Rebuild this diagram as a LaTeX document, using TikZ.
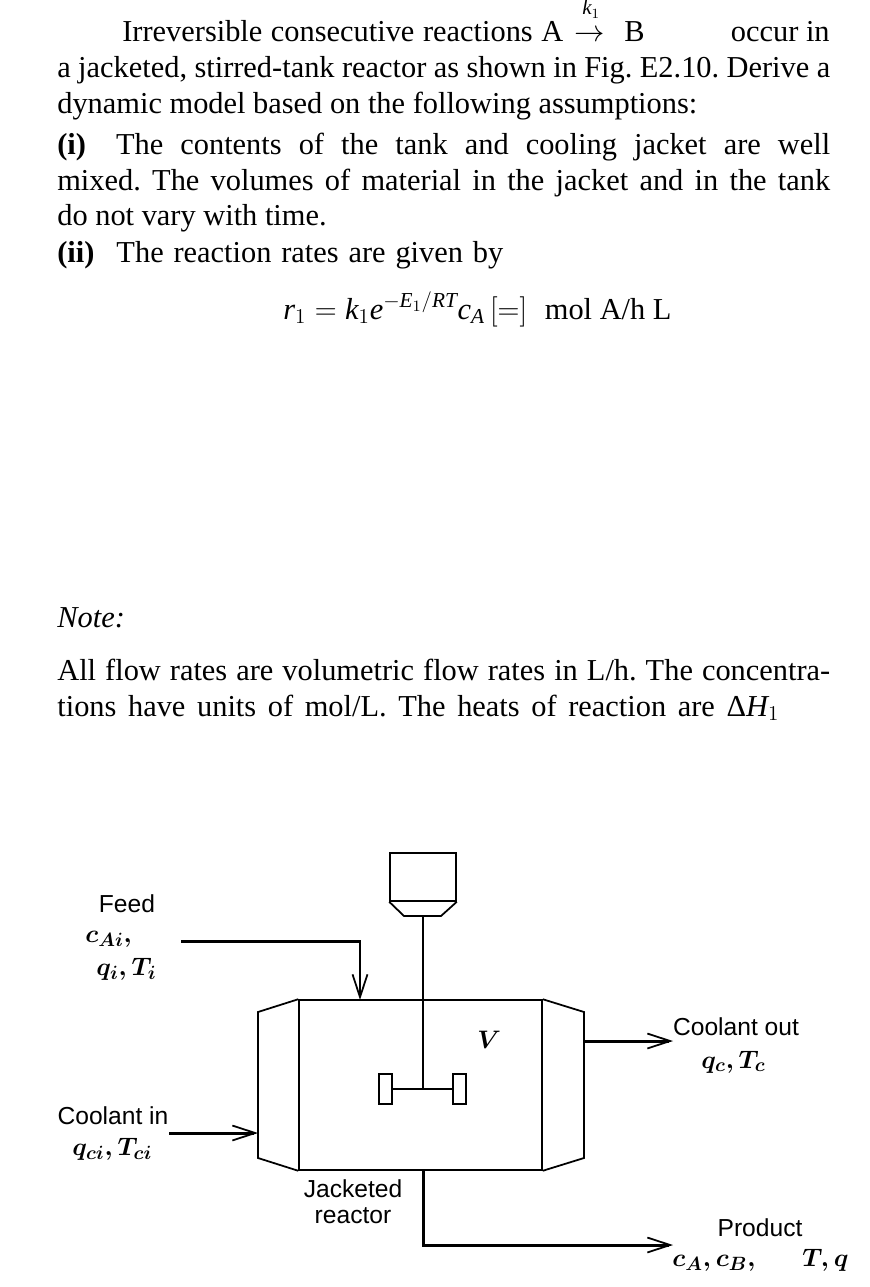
\documentclass[tikz,border=0pt]{standalone}
\usepackage{fontspec}
\setmainfont{Liberation Serif}
\newfontfamily\labelfont{Liberation Sans}
\usetikzlibrary{arrows.meta}
\newcommand{\fullline}[1]{\makebox[15.46cm][s]{#1}}
\tikzset{
    bodyline/.style={anchor=base west,inner sep=0pt,font=\fontsize{17.3}{20}\selectfont\frenchspacing},
    sanslabel/.style={inner sep=0pt,align=center,font=\labelfont\fontsize{14}{14.8}\selectfont},
    mathlabel/.style={inner sep=0pt,anchor=base west,font=\fontsize{15}{18}\selectfont\boldmath},
    vessel/.style={draw,line width=0.9pt,inner sep=0pt},
    thinpart/.style={line width=0.8pt},
    jacket/.style={line width=1pt,line join=miter},
    flowline/.style={-{Straight Barb[length=13pt,width=8.5pt,line width=1pt]},line width=1.7pt}
}
\begin{document}
\begin{tikzpicture}[x=0.02cm,y=-0.02cm]
    \useasboundingbox (0,0) rectangle (869,1287);
    % text above the figure
    \node[bodyline] (line1) at (122,42) {\makebox[8.82cm][s]{Irreversible consecutive reactions A}};
    \node[bodyline] (rarrow) at (574,42) {$\rightarrow$};
    \node[bodyline,font=\fontsize{12}{14}\selectfont] (rate) at (582,15) {$\mathit{k}_1$};
    \node[bodyline] (prodB) at (624,42) {B};
    \node[bodyline,anchor=base east] (occur) at (830,42) {occur in};
    \node[bodyline] (line2) at (57,78) {\fullline{a jacketed, stirred-tank reactor as shown in Fig. E2.10. Derive a}};
    \node[bodyline] (line3) at (57,114) {dynamic model based on the following assumptions:};
    \node[bodyline] (line4) at (57,155) {\fullline{\textbf{(i)}\hspace{0.6cm}The contents of the tank and cooling jacket are well}};
    \node[bodyline] (line5) at (57,191) {\fullline{mixed. The volumes of material in the jacket and in the tank}};
    \node[bodyline] (line6) at (57,226) {do not vary with time.};
    \node[bodyline] (line7) at (57,263) {\makebox[8.92cm][s]{\textbf{(ii)}\hspace{0.44cm}The reaction rates are given by}};
    \node[bodyline] (rateeq) at (283,319) {$\mathit{r}_1 = \mathit{k}_1 \mathit{e}^{-\mathit{E}_1/\mathit{RT}} \mathit{c}_{\mathit{A}}\,[=]\,\,$ mol A/h L};
    \node[bodyline] (note) at (57,627) {\itshape Note:};
    \node[bodyline] (line8) at (57,680) {\fullline{All flow rates are volumetric flow rates in L/h. The concentra-}};
    \node[bodyline] (line9) at (57,716) {\makebox[14.44cm][s]{tions have units of mol/L. The heats of reaction are Δ$\mathit{H}_1$}};
    % reactor
    \node[vessel,minimum width=4.86cm,minimum height=3.4cm] (tank) at (420.5,1085) {};
    \draw[jacket] (tank.north west) -- (258,1012) -- (258,1158) -- (tank.south west);
    \draw[jacket] (tank.north east) -- (584,1012) -- (584,1158) -- (tank.south east);
    % motor and stirrer
    \node[vessel,minimum width=1.32cm,minimum height=0.96cm] (motor) at (423,877) {};
    \draw[jacket] (motor.south west) -- (404,916) -- (441,916) -- (motor.south east);
    \coordinate (shafttop) at (423,916);
    \coordinate (hub) at (423,1088);
    \node[vessel,line width=0.7pt,minimum width=0.26cm,minimum height=0.6cm] (paddleL) at (385.5,1089) {};
    \node[vessel,line width=0.7pt,minimum width=0.26cm,minimum height=0.6cm] (paddleR) at (459.5,1089) {};
    \draw[thinpart] (shafttop) -- (hub);
    \draw[thinpart] (paddleL) -- (paddleR);
    % streams
    \coordinate (feedstart) at (181,941);
    \coordinate (feedin) at (360,1000);
    \coordinate (coolinstart) at (169,1133);
    \coordinate (coolin) at (258,1133);
    \coordinate (cooloutstart) at (584,1041);
    \coordinate (coolout) at (673,1041);
    \coordinate (prodstart) at (423,1170);
    \coordinate (prodend) at (673,1245);
    \draw[flowline] (feedstart) -| (feedin);
    \draw[flowline] (coolinstart) -- (coolin);
    \draw[flowline] (cooloutstart) -- (coolout);
    \draw[flowline] (prodstart) |- (prodend);
    % labels of the figure
    \node[sanslabel] (feedlabel) at (127,904) {Feed};
    \node[mathlabel] (feedconc) at (85,942) {$c_{Ai},$};
    \node[mathlabel] (feedvars) at (96,975) {$q_i,T_i$};
    \node[sanslabel] (coolinlabel) at (113,1116) {Coolant in};
    \node[mathlabel] (coolinvars) at (72,1155) {$q_{ci},T_{ci}$};
    \node[sanslabel] (tanklabel) at (353,1202) {Jacketed\\reactor};
    \node[mathlabel] (volume) at (477,1048) {$V$};
    \node[sanslabel] (cooloutlabel) at (736,1027) {Coolant out};
    \node[mathlabel] (cooloutvars) at (701,1068) {$q_c,T_c$};
    \node[sanslabel] (prodlabel) at (760,1228) {Product};
    \node[mathlabel] (prodconc) at (672,1266) {$c_A,c_B,$};
    \node[mathlabel] (prodvars) at (802,1266) {$T,q$};
\end{tikzpicture}
\end{document}
